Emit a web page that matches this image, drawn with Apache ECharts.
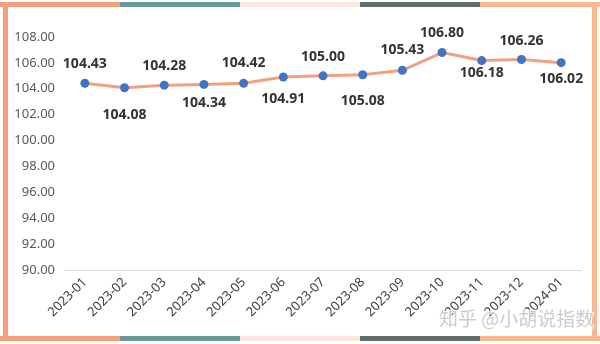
<!DOCTYPE html>
<html>
<head>
<meta charset="utf-8">
<script src="https://cdn.jsdelivr.net/npm/echarts@6/dist/echarts.min.js"></script>
<style>
html,body{margin:0;padding:0;background:#fff;}
#chart{width:600px;height:344px;}
</style>
</head>
<body>
<div id="chart"></div>
<script>
const categories = ['2023-01','2023-02','2023-03','2023-04','2023-05','2023-06','2023-07','2023-08','2023-09','2023-10','2023-11','2023-12','2024-01'];
const values = [104.43,104.08,104.28,104.34,104.42,104.91,105.00,105.08,105.43,106.80,106.18,106.26,106.02];
const yTicks = {min: 90, max: 108, interval: 2};
// vertical offset (px) of each value label from its point
const labelDy = [-19, 27, -19, 19, -20, 22, -19, 26, -20, -20, 12, -19, 16];

const frameColors = ['#F4A07E','#6B9A9C','#FBE7DB','#5F6F6C','#F7B88E'];

const chart = echarts.init(document.getElementById('chart'), null, {renderer:'canvas'});

const graphics = [];
frameColors.forEach((c, i) => {
  graphics.push({type:'rect', shape:{x:i*120, y:2, width:120, height:5}, style:{fill:c}, z:0});
  graphics.push({type:'rect', shape:{x:i*120, y:336, width:120, height:5}, style:{fill:c}, z:0});
});
graphics.push({type:'rect', shape:{x:3, y:2, width:5, height:339}, style:{fill:frameColors[0]}, z:0});
graphics.push({type:'rect', shape:{x:592, y:2, width:5, height:339}, style:{fill:frameColors[4]}, z:0});
graphics.push({type:'text', left:438, top:308, style:{text:'知乎 @小胡说指数', fill:'rgba(170,170,170,0.6)', stroke:'rgba(255,255,255,0.8)', lineWidth:2, font:'19px "Noto Sans CJK SC"'}, z:10});

chart.setOption({
  animation:false,
  backgroundColor:'#fff',
  graphic: graphics,
  grid:{left:65, right:19, top:37, bottom:74, containLabel:false},
  xAxis:{
    type:'category',
    data:categories,
    boundaryGap:true,
    axisLine:{show:true, lineStyle:{color:'#D9D9D9', width:1}},
    axisTick:{show:false},
    axisLabel:{rotate:45, color:'#404040', fontSize:13, fontFamily:'"Noto Sans", sans-serif', margin:10, interval:0}
  },
  yAxis:{
    type:'value',
    min:yTicks.min, max:yTicks.max, interval:yTicks.interval,
    axisLine:{show:false},
    axisTick:{show:false},
    splitLine:{show:false},
    axisLabel:{color:'#595959', fontSize:13, fontFamily:'"Noto Sans", sans-serif', margin:10, formatter:v=>v.toFixed(2)}
  },
  series:[{
    type:'line',
    data: values.map((v,i)=>({value:v, label:{offset:[0, labelDy[i]]}})),
    lineStyle:{color:'#F4A07E', width:3},
    symbol:'circle',
    symbolSize:9,
    itemStyle:{color:'#4472C4'},
    label:{
      show:true,
      position:'inside',
      color:'#333333',
      fontSize:14,
      fontWeight:'bold',
      fontFamily:'"Noto Sans", sans-serif',
      formatter:p=>p.value.toFixed(2)
    }
  }]
});
</script>
</body>
</html>
